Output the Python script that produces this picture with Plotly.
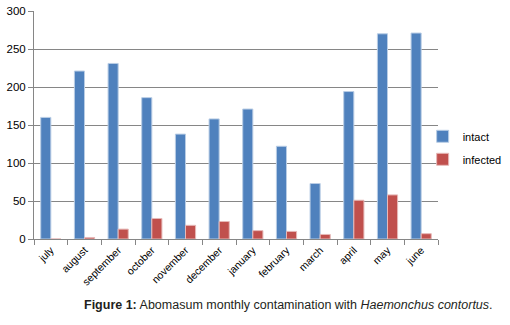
import plotly.graph_objects as go

months = ["july", "august", "september", "october", "november", "december",
          "january", "february", "march", "april", "may", "june"]
intact = [160, 221, 231, 186, 138, 158, 171, 122, 73, 194, 270, 271]
infected = [0, 2, 13, 27, 18, 23, 11, 10, 6, 51, 58, 7]
y_ticks = [0, 50, 100, 150, 200, 250, 300]

fig = go.Figure()
fig.add_trace(go.Bar(x=months, y=intact, name="intact", legendgroup="a",
                     marker=dict(color="#4F81BD", line=dict(color="#B9CDE5", width=1))))
fig.add_trace(go.Bar(x=months, y=infected, name="infected", legendgroup="b",
                     marker=dict(color="#C0504D", line=dict(color="#E6B9B8", width=1))))

fig.update_layout(
    width=510, height=325,
    margin=dict(l=34, r=72, t=11, b=86, autoexpand=False),
    paper_bgcolor="white", plot_bgcolor="white",
    barmode="group", bargap=0.4, bargroupgap=0,
    font=dict(family="Liberation Sans, Arial", size=11, color="#000000"),
    legend=dict(x=0.962, y=0.4, xanchor="left", yanchor="middle",
                font=dict(size=11), itemwidth=30, traceorder="grouped",
                tracegroupgap=4, bgcolor="rgba(0,0,0,0)"),
    xaxis=dict(tickangle=-45, ticks="outside", tickson="boundaries", ticklen=5,
               tickcolor="#868686", showline=True, linecolor="#868686",
               showgrid=False, tickfont=dict(size=10.5)),
    yaxis=dict(range=[0, 300], tickvals=y_ticks, ticks="outside", ticklen=5,
               tickcolor="#868686", showline=True, linecolor="#868686",
               gridcolor="#868686", gridwidth=1, zeroline=False,
               tickfont=dict(size=11.5)),
    annotations=[dict(
        text="<b>Figure 1:</b> Abomasum monthly contamination with <i>Haemonchus contortus</i>.",
        xref="paper", yref="paper", x=0.631, y=-0.29, xanchor="center", yanchor="middle",
        showarrow=False, font=dict(family="Liberation Sans, Arial", size=12.5, color="#231F20"))],
)

fig.write_html("out.html")
